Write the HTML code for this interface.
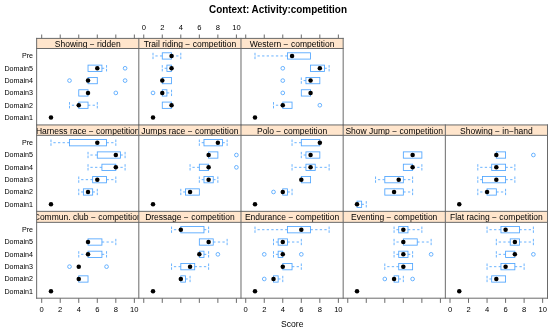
<!DOCTYPE html><html><head><meta charset="utf-8"><title>Context: Activity:competition</title>
<style>html,body{margin:0;padding:0;background:#fff}svg{display:block}text{font-family:"Liberation Sans",Arial,Helvetica,sans-serif;fill:#000}</style></head><body>
<svg width="550" height="331" viewBox="0 0 550 331">
<rect x="0" y="0" width="550" height="331" fill="#fff"/>
<text x="278" y="12.75" text-anchor="middle" font-size="10.1" font-weight="bold" textLength="138" lengthAdjust="spacingAndGlyphs">Context: Activity:competition</text>
<text x="292.2" y="326.5" text-anchor="middle" font-size="8.6">Score</text>
<g>
<clipPath id="c00"><rect x="36.65" y="38.40" width="102.17" height="10.1"/></clipPath>
<rect x="36.65" y="38.40" width="102.17" height="10.1" fill="#ffe5cc"/>
<text x="87.73" y="46.90" text-anchor="middle" font-size="8.5" clip-path="url(#c00)">Showing − ridden</text>
<rect x="88.03" y="65.12" width="13.90" height="6.3" fill="none" stroke="#4fa5ff" stroke-width="0.85"/>
<path d="M101.92 68.27H106.56" fill="none" stroke="#4fa5ff" stroke-width="0.85" stroke-dasharray="2.3 2.3"/><path d="M106.56 65.12v6.3" fill="none" stroke="#4fa5ff" stroke-width="0.85" stroke-dasharray="2.55 1.2"/>
<circle cx="125.09" cy="68.27" r="1.85" fill="none" stroke="#4fa5ff" stroke-width="0.85"/>
<circle cx="97.29" cy="68.27" r="2.25" fill="#000"/>
<rect x="88.03" y="77.44" width="9.27" height="6.3" fill="none" stroke="#4fa5ff" stroke-width="0.85"/>
<circle cx="69.50" cy="80.59" r="1.85" fill="none" stroke="#4fa5ff" stroke-width="0.85"/>
<circle cx="125.09" cy="80.59" r="1.85" fill="none" stroke="#4fa5ff" stroke-width="0.85"/>
<circle cx="88.03" cy="80.59" r="2.25" fill="#000"/>
<rect x="78.76" y="89.76" width="9.27" height="6.3" fill="none" stroke="#4fa5ff" stroke-width="0.85"/>
<circle cx="115.82" cy="92.91" r="1.85" fill="none" stroke="#4fa5ff" stroke-width="0.85"/>
<circle cx="88.03" cy="92.91" r="2.25" fill="#000"/>
<rect x="78.76" y="102.08" width="9.27" height="6.3" fill="none" stroke="#4fa5ff" stroke-width="0.85"/>
<path d="M78.76 105.23H69.50" fill="none" stroke="#4fa5ff" stroke-width="0.85" stroke-dasharray="2.3 2.3"/><path d="M69.50 102.08v6.3" fill="none" stroke="#4fa5ff" stroke-width="0.85" stroke-dasharray="2.55 1.2"/>
<path d="M88.03 105.23H97.29" fill="none" stroke="#4fa5ff" stroke-width="0.85" stroke-dasharray="2.3 2.3"/><path d="M97.29 102.08v6.3" fill="none" stroke="#4fa5ff" stroke-width="0.85" stroke-dasharray="2.55 1.2"/>
<circle cx="78.76" cy="105.23" r="2.25" fill="#000"/>
<circle cx="50.97" cy="117.55" r="2.25" fill="#000"/>
</g>
<g>
<clipPath id="c01"><rect x="138.82" y="38.40" width="102.17" height="10.1"/></clipPath>
<rect x="138.82" y="38.40" width="102.17" height="10.1" fill="#ffe5cc"/>
<text x="189.91" y="46.90" text-anchor="middle" font-size="8.5" clip-path="url(#c01)">Trail riding − competition</text>
<rect x="162.28" y="52.80" width="9.27" height="6.3" fill="none" stroke="#4fa5ff" stroke-width="0.85"/>
<path d="M162.28 55.95H153.01" fill="none" stroke="#4fa5ff" stroke-width="0.85" stroke-dasharray="2.3 2.3"/><path d="M153.01 52.80v6.3" fill="none" stroke="#4fa5ff" stroke-width="0.85" stroke-dasharray="2.55 1.2"/>
<path d="M171.55 55.95H180.81" fill="none" stroke="#4fa5ff" stroke-width="0.85" stroke-dasharray="2.3 2.3"/><path d="M180.81 52.80v6.3" fill="none" stroke="#4fa5ff" stroke-width="0.85" stroke-dasharray="2.55 1.2"/>
<circle cx="171.55" cy="55.95" r="2.25" fill="#000"/>
<rect x="166.91" y="65.12" width="4.63" height="6.3" fill="none" stroke="#4fa5ff" stroke-width="0.85"/>
<path d="M166.91 68.27H162.28" fill="none" stroke="#4fa5ff" stroke-width="0.85" stroke-dasharray="2.3 2.3"/><path d="M162.28 65.12v6.3" fill="none" stroke="#4fa5ff" stroke-width="0.85" stroke-dasharray="2.55 1.2"/>
<circle cx="171.55" cy="68.27" r="2.25" fill="#000"/>
<rect x="162.28" y="77.44" width="9.27" height="6.3" fill="none" stroke="#4fa5ff" stroke-width="0.85"/>
<circle cx="162.28" cy="80.59" r="2.25" fill="#000"/>
<rect x="162.28" y="89.76" width="4.63" height="6.3" fill="none" stroke="#4fa5ff" stroke-width="0.85"/>
<path d="M166.91 92.91H171.55" fill="none" stroke="#4fa5ff" stroke-width="0.85" stroke-dasharray="2.3 2.3"/><path d="M171.55 89.76v6.3" fill="none" stroke="#4fa5ff" stroke-width="0.85" stroke-dasharray="2.55 1.2"/>
<circle cx="153.01" cy="92.91" r="1.85" fill="none" stroke="#4fa5ff" stroke-width="0.85"/>
<circle cx="162.28" cy="92.91" r="2.25" fill="#000"/>
<rect x="162.28" y="102.08" width="9.27" height="6.3" fill="none" stroke="#4fa5ff" stroke-width="0.85"/>
<circle cx="171.55" cy="105.23" r="2.25" fill="#000"/>
<circle cx="153.01" cy="117.55" r="2.25" fill="#000"/>
</g>
<g>
<clipPath id="c02"><rect x="240.99" y="38.40" width="102.17" height="10.1"/></clipPath>
<rect x="240.99" y="38.40" width="102.17" height="10.1" fill="#ffe5cc"/>
<text x="292.07" y="46.90" text-anchor="middle" font-size="8.5" clip-path="url(#c02)">Western − competition</text>
<rect x="287.41" y="52.80" width="23.16" height="6.3" fill="none" stroke="#4fa5ff" stroke-width="0.85"/>
<path d="M287.41 55.95H254.99" fill="none" stroke="#4fa5ff" stroke-width="0.85" stroke-dasharray="2.3 2.3"/><path d="M254.99 52.80v6.3" fill="none" stroke="#4fa5ff" stroke-width="0.85" stroke-dasharray="2.55 1.2"/>
<circle cx="292.05" cy="55.95" r="2.25" fill="#000"/>
<rect x="310.57" y="65.12" width="13.90" height="6.3" fill="none" stroke="#4fa5ff" stroke-width="0.85"/>
<path d="M324.47 68.27H329.11" fill="none" stroke="#4fa5ff" stroke-width="0.85" stroke-dasharray="2.3 2.3"/><path d="M329.11 65.12v6.3" fill="none" stroke="#4fa5ff" stroke-width="0.85" stroke-dasharray="2.55 1.2"/>
<circle cx="282.78" cy="68.27" r="1.85" fill="none" stroke="#4fa5ff" stroke-width="0.85"/>
<circle cx="319.84" cy="68.27" r="2.25" fill="#000"/>
<rect x="305.94" y="77.44" width="13.90" height="6.3" fill="none" stroke="#4fa5ff" stroke-width="0.85"/>
<path d="M305.94 80.59H301.31" fill="none" stroke="#4fa5ff" stroke-width="0.85" stroke-dasharray="2.3 2.3"/><path d="M301.31 77.44v6.3" fill="none" stroke="#4fa5ff" stroke-width="0.85" stroke-dasharray="2.55 1.2"/>
<circle cx="282.78" cy="80.59" r="1.85" fill="none" stroke="#4fa5ff" stroke-width="0.85"/>
<circle cx="310.57" cy="80.59" r="2.25" fill="#000"/>
<rect x="301.31" y="89.76" width="9.27" height="6.3" fill="none" stroke="#4fa5ff" stroke-width="0.85"/>
<circle cx="282.78" cy="92.91" r="1.85" fill="none" stroke="#4fa5ff" stroke-width="0.85"/>
<circle cx="310.57" cy="92.91" r="2.25" fill="#000"/>
<rect x="282.78" y="102.08" width="9.27" height="6.3" fill="none" stroke="#4fa5ff" stroke-width="0.85"/>
<path d="M282.78 105.23H273.51" fill="none" stroke="#4fa5ff" stroke-width="0.85" stroke-dasharray="2.3 2.3"/><path d="M273.51 102.08v6.3" fill="none" stroke="#4fa5ff" stroke-width="0.85" stroke-dasharray="2.55 1.2"/>
<circle cx="319.84" cy="105.23" r="1.85" fill="none" stroke="#4fa5ff" stroke-width="0.85"/>
<circle cx="282.78" cy="105.23" r="2.25" fill="#000"/>
<circle cx="254.99" cy="117.55" r="2.25" fill="#000"/>
</g>
<g>
<clipPath id="c10"><rect x="36.65" y="124.95" width="102.17" height="10.4"/></clipPath>
<rect x="36.65" y="124.95" width="102.17" height="10.4" fill="#ffe5cc"/>
<text x="87.73" y="133.60" text-anchor="middle" font-size="8.5" clip-path="url(#c10)">Harness race − competition</text>
<rect x="69.50" y="139.55" width="37.06" height="6.3" fill="none" stroke="#4fa5ff" stroke-width="0.85"/>
<path d="M69.50 142.70H50.97" fill="none" stroke="#4fa5ff" stroke-width="0.85" stroke-dasharray="2.3 2.3"/><path d="M50.97 139.55v6.3" fill="none" stroke="#4fa5ff" stroke-width="0.85" stroke-dasharray="2.55 1.2"/>
<path d="M106.56 142.70H115.82" fill="none" stroke="#4fa5ff" stroke-width="0.85" stroke-dasharray="2.3 2.3"/><path d="M115.82 139.55v6.3" fill="none" stroke="#4fa5ff" stroke-width="0.85" stroke-dasharray="2.55 1.2"/>
<circle cx="97.29" cy="142.70" r="2.25" fill="#000"/>
<rect x="97.29" y="151.87" width="23.16" height="6.3" fill="none" stroke="#4fa5ff" stroke-width="0.85"/>
<path d="M97.29 155.02H88.03" fill="none" stroke="#4fa5ff" stroke-width="0.85" stroke-dasharray="2.3 2.3"/><path d="M88.03 151.87v6.3" fill="none" stroke="#4fa5ff" stroke-width="0.85" stroke-dasharray="2.55 1.2"/>
<path d="M120.45 155.02H125.09" fill="none" stroke="#4fa5ff" stroke-width="0.85" stroke-dasharray="2.3 2.3"/><path d="M125.09 151.87v6.3" fill="none" stroke="#4fa5ff" stroke-width="0.85" stroke-dasharray="2.55 1.2"/>
<circle cx="115.82" cy="155.02" r="2.25" fill="#000"/>
<rect x="101.92" y="164.19" width="13.90" height="6.3" fill="none" stroke="#4fa5ff" stroke-width="0.85"/>
<path d="M101.92 167.34H88.03" fill="none" stroke="#4fa5ff" stroke-width="0.85" stroke-dasharray="2.3 2.3"/><path d="M88.03 164.19v6.3" fill="none" stroke="#4fa5ff" stroke-width="0.85" stroke-dasharray="2.55 1.2"/>
<path d="M115.82 167.34H125.09" fill="none" stroke="#4fa5ff" stroke-width="0.85" stroke-dasharray="2.3 2.3"/><path d="M125.09 164.19v6.3" fill="none" stroke="#4fa5ff" stroke-width="0.85" stroke-dasharray="2.55 1.2"/>
<circle cx="115.82" cy="167.34" r="2.25" fill="#000"/>
<rect x="92.66" y="176.51" width="13.90" height="6.3" fill="none" stroke="#4fa5ff" stroke-width="0.85"/>
<path d="M92.66 179.66H78.76" fill="none" stroke="#4fa5ff" stroke-width="0.85" stroke-dasharray="2.3 2.3"/><path d="M78.76 176.51v6.3" fill="none" stroke="#4fa5ff" stroke-width="0.85" stroke-dasharray="2.55 1.2"/>
<path d="M106.56 179.66H115.82" fill="none" stroke="#4fa5ff" stroke-width="0.85" stroke-dasharray="2.3 2.3"/><path d="M115.82 176.51v6.3" fill="none" stroke="#4fa5ff" stroke-width="0.85" stroke-dasharray="2.55 1.2"/>
<circle cx="97.29" cy="179.66" r="2.25" fill="#000"/>
<rect x="83.39" y="188.83" width="9.27" height="6.3" fill="none" stroke="#4fa5ff" stroke-width="0.85"/>
<path d="M83.39 191.98H78.76" fill="none" stroke="#4fa5ff" stroke-width="0.85" stroke-dasharray="2.3 2.3"/><path d="M78.76 188.83v6.3" fill="none" stroke="#4fa5ff" stroke-width="0.85" stroke-dasharray="2.55 1.2"/>
<path d="M92.66 191.98H97.29" fill="none" stroke="#4fa5ff" stroke-width="0.85" stroke-dasharray="2.3 2.3"/><path d="M97.29 188.83v6.3" fill="none" stroke="#4fa5ff" stroke-width="0.85" stroke-dasharray="2.55 1.2"/>
<circle cx="88.03" cy="191.98" r="2.25" fill="#000"/>
<circle cx="50.97" cy="204.30" r="2.25" fill="#000"/>
</g>
<g>
<clipPath id="c11"><rect x="138.82" y="124.95" width="102.17" height="10.4"/></clipPath>
<rect x="138.82" y="124.95" width="102.17" height="10.4" fill="#ffe5cc"/>
<text x="189.91" y="133.60" text-anchor="middle" font-size="8.5" clip-path="url(#c11)">Jumps race − competition</text>
<rect x="203.97" y="139.55" width="18.53" height="6.3" fill="none" stroke="#4fa5ff" stroke-width="0.85"/>
<path d="M203.97 142.70H199.34" fill="none" stroke="#4fa5ff" stroke-width="0.85" stroke-dasharray="2.3 2.3"/><path d="M199.34 139.55v6.3" fill="none" stroke="#4fa5ff" stroke-width="0.85" stroke-dasharray="2.55 1.2"/>
<path d="M222.50 142.70H227.13" fill="none" stroke="#4fa5ff" stroke-width="0.85" stroke-dasharray="2.3 2.3"/><path d="M227.13 139.55v6.3" fill="none" stroke="#4fa5ff" stroke-width="0.85" stroke-dasharray="2.55 1.2"/>
<circle cx="217.87" cy="142.70" r="2.25" fill="#000"/>
<rect x="208.61" y="151.87" width="9.27" height="6.3" fill="none" stroke="#4fa5ff" stroke-width="0.85"/>
<circle cx="236.40" cy="155.02" r="1.85" fill="none" stroke="#4fa5ff" stroke-width="0.85"/>
<circle cx="208.61" cy="155.02" r="2.25" fill="#000"/>
<rect x="199.34" y="164.19" width="9.27" height="6.3" fill="none" stroke="#4fa5ff" stroke-width="0.85"/>
<path d="M199.34 167.34H190.07" fill="none" stroke="#4fa5ff" stroke-width="0.85" stroke-dasharray="2.3 2.3"/><path d="M190.07 164.19v6.3" fill="none" stroke="#4fa5ff" stroke-width="0.85" stroke-dasharray="2.55 1.2"/>
<circle cx="236.40" cy="167.34" r="1.85" fill="none" stroke="#4fa5ff" stroke-width="0.85"/>
<circle cx="208.61" cy="167.34" r="2.25" fill="#000"/>
<rect x="203.97" y="176.51" width="9.27" height="6.3" fill="none" stroke="#4fa5ff" stroke-width="0.85"/>
<path d="M203.97 179.66H199.34" fill="none" stroke="#4fa5ff" stroke-width="0.85" stroke-dasharray="2.3 2.3"/><path d="M199.34 176.51v6.3" fill="none" stroke="#4fa5ff" stroke-width="0.85" stroke-dasharray="2.55 1.2"/>
<path d="M213.24 179.66H217.87" fill="none" stroke="#4fa5ff" stroke-width="0.85" stroke-dasharray="2.3 2.3"/><path d="M217.87 176.51v6.3" fill="none" stroke="#4fa5ff" stroke-width="0.85" stroke-dasharray="2.55 1.2"/>
<circle cx="208.61" cy="179.66" r="2.25" fill="#000"/>
<rect x="185.44" y="188.83" width="13.90" height="6.3" fill="none" stroke="#4fa5ff" stroke-width="0.85"/>
<path d="M185.44 191.98H180.81" fill="none" stroke="#4fa5ff" stroke-width="0.85" stroke-dasharray="2.3 2.3"/><path d="M180.81 188.83v6.3" fill="none" stroke="#4fa5ff" stroke-width="0.85" stroke-dasharray="2.55 1.2"/>
<circle cx="190.07" cy="191.98" r="2.25" fill="#000"/>
<circle cx="153.01" cy="204.30" r="2.25" fill="#000"/>
</g>
<g>
<clipPath id="c12"><rect x="240.99" y="124.95" width="102.17" height="10.4"/></clipPath>
<rect x="240.99" y="124.95" width="102.17" height="10.4" fill="#ffe5cc"/>
<text x="292.07" y="133.60" text-anchor="middle" font-size="8.5" clip-path="url(#c12)">Polo − competition</text>
<rect x="301.31" y="139.55" width="18.53" height="6.3" fill="none" stroke="#4fa5ff" stroke-width="0.85"/>
<path d="M301.31 142.70H292.05" fill="none" stroke="#4fa5ff" stroke-width="0.85" stroke-dasharray="2.3 2.3"/><path d="M292.05 139.55v6.3" fill="none" stroke="#4fa5ff" stroke-width="0.85" stroke-dasharray="2.55 1.2"/>
<circle cx="319.84" cy="142.70" r="2.25" fill="#000"/>
<rect x="305.94" y="151.87" width="13.90" height="6.3" fill="none" stroke="#4fa5ff" stroke-width="0.85"/>
<path d="M305.94 155.02H301.31" fill="none" stroke="#4fa5ff" stroke-width="0.85" stroke-dasharray="2.3 2.3"/><path d="M301.31 151.87v6.3" fill="none" stroke="#4fa5ff" stroke-width="0.85" stroke-dasharray="2.55 1.2"/>
<circle cx="310.57" cy="155.02" r="2.25" fill="#000"/>
<rect x="305.94" y="164.19" width="9.27" height="6.3" fill="none" stroke="#4fa5ff" stroke-width="0.85"/>
<path d="M305.94 167.34H292.05" fill="none" stroke="#4fa5ff" stroke-width="0.85" stroke-dasharray="2.3 2.3"/><path d="M292.05 164.19v6.3" fill="none" stroke="#4fa5ff" stroke-width="0.85" stroke-dasharray="2.55 1.2"/>
<path d="M315.21 167.34H329.11" fill="none" stroke="#4fa5ff" stroke-width="0.85" stroke-dasharray="2.3 2.3"/><path d="M329.11 164.19v6.3" fill="none" stroke="#4fa5ff" stroke-width="0.85" stroke-dasharray="2.55 1.2"/>
<circle cx="310.57" cy="167.34" r="2.25" fill="#000"/>
<rect x="301.31" y="176.51" width="9.27" height="6.3" fill="none" stroke="#4fa5ff" stroke-width="0.85"/>
<circle cx="301.31" cy="179.66" r="2.25" fill="#000"/>
<rect x="282.78" y="188.83" width="4.63" height="6.3" fill="none" stroke="#4fa5ff" stroke-width="0.85"/>
<path d="M287.41 191.98H292.05" fill="none" stroke="#4fa5ff" stroke-width="0.85" stroke-dasharray="2.3 2.3"/><path d="M292.05 188.83v6.3" fill="none" stroke="#4fa5ff" stroke-width="0.85" stroke-dasharray="2.55 1.2"/>
<circle cx="273.51" cy="191.98" r="1.85" fill="none" stroke="#4fa5ff" stroke-width="0.85"/>
<circle cx="282.78" cy="191.98" r="2.25" fill="#000"/>
<circle cx="254.99" cy="204.30" r="2.25" fill="#000"/>
</g>
<g>
<clipPath id="c13"><rect x="343.16" y="124.95" width="102.17" height="10.4"/></clipPath>
<rect x="343.16" y="124.95" width="102.17" height="10.4" fill="#ffe5cc"/>
<text x="394.24" y="133.60" text-anchor="middle" font-size="8.5" clip-path="url(#c13)">Show Jump − competition</text>
<rect x="403.34" y="151.87" width="18.53" height="6.3" fill="none" stroke="#4fa5ff" stroke-width="0.85"/>
<circle cx="412.61" cy="155.02" r="2.25" fill="#000"/>
<rect x="403.34" y="164.19" width="9.27" height="6.3" fill="none" stroke="#4fa5ff" stroke-width="0.85"/>
<path d="M412.61 167.34H421.87" fill="none" stroke="#4fa5ff" stroke-width="0.85" stroke-dasharray="2.3 2.3"/><path d="M421.87 164.19v6.3" fill="none" stroke="#4fa5ff" stroke-width="0.85" stroke-dasharray="2.55 1.2"/>
<circle cx="412.61" cy="167.34" r="2.25" fill="#000"/>
<rect x="384.81" y="176.51" width="18.53" height="6.3" fill="none" stroke="#4fa5ff" stroke-width="0.85"/>
<path d="M384.81 179.66H375.55" fill="none" stroke="#4fa5ff" stroke-width="0.85" stroke-dasharray="2.3 2.3"/><path d="M375.55 176.51v6.3" fill="none" stroke="#4fa5ff" stroke-width="0.85" stroke-dasharray="2.55 1.2"/>
<path d="M403.34 179.66H412.61" fill="none" stroke="#4fa5ff" stroke-width="0.85" stroke-dasharray="2.3 2.3"/><path d="M412.61 176.51v6.3" fill="none" stroke="#4fa5ff" stroke-width="0.85" stroke-dasharray="2.55 1.2"/>
<circle cx="398.71" cy="179.66" r="2.25" fill="#000"/>
<rect x="384.81" y="188.83" width="18.53" height="6.3" fill="none" stroke="#4fa5ff" stroke-width="0.85"/>
<path d="M403.34 191.98H412.61" fill="none" stroke="#4fa5ff" stroke-width="0.85" stroke-dasharray="2.3 2.3"/><path d="M412.61 188.83v6.3" fill="none" stroke="#4fa5ff" stroke-width="0.85" stroke-dasharray="2.55 1.2"/>
<circle cx="394.07" cy="191.98" r="2.25" fill="#000"/>
<rect x="357.01" y="201.15" width="4.63" height="6.3" fill="none" stroke="#4fa5ff" stroke-width="0.85"/>
<path d="M361.65 204.30H366.28" fill="none" stroke="#4fa5ff" stroke-width="0.85" stroke-dasharray="2.3 2.3"/><path d="M366.28 201.15v6.3" fill="none" stroke="#4fa5ff" stroke-width="0.85" stroke-dasharray="2.55 1.2"/>
<circle cx="357.01" cy="204.30" r="2.25" fill="#000"/>
</g>
<g>
<clipPath id="c14"><rect x="445.33" y="124.95" width="102.17" height="10.4"/></clipPath>
<rect x="445.33" y="124.95" width="102.17" height="10.4" fill="#ffe5cc"/>
<text x="496.41" y="133.60" text-anchor="middle" font-size="8.5" clip-path="url(#c14)">Showing − in−hand</text>
<rect x="496.32" y="151.87" width="9.27" height="6.3" fill="none" stroke="#4fa5ff" stroke-width="0.85"/>
<circle cx="533.38" cy="155.02" r="1.85" fill="none" stroke="#4fa5ff" stroke-width="0.85"/>
<circle cx="496.32" cy="155.02" r="2.25" fill="#000"/>
<rect x="491.69" y="164.19" width="13.90" height="6.3" fill="none" stroke="#4fa5ff" stroke-width="0.85"/>
<path d="M491.69 167.34H477.80" fill="none" stroke="#4fa5ff" stroke-width="0.85" stroke-dasharray="2.3 2.3"/><path d="M477.80 164.19v6.3" fill="none" stroke="#4fa5ff" stroke-width="0.85" stroke-dasharray="2.55 1.2"/>
<path d="M505.59 167.34H514.86" fill="none" stroke="#4fa5ff" stroke-width="0.85" stroke-dasharray="2.3 2.3"/><path d="M514.86 164.19v6.3" fill="none" stroke="#4fa5ff" stroke-width="0.85" stroke-dasharray="2.55 1.2"/>
<circle cx="496.32" cy="167.34" r="2.25" fill="#000"/>
<rect x="482.43" y="176.51" width="23.16" height="6.3" fill="none" stroke="#4fa5ff" stroke-width="0.85"/>
<path d="M482.43 179.66H477.80" fill="none" stroke="#4fa5ff" stroke-width="0.85" stroke-dasharray="2.3 2.3"/><path d="M477.80 176.51v6.3" fill="none" stroke="#4fa5ff" stroke-width="0.85" stroke-dasharray="2.55 1.2"/>
<path d="M505.59 179.66H514.86" fill="none" stroke="#4fa5ff" stroke-width="0.85" stroke-dasharray="2.3 2.3"/><path d="M514.86 176.51v6.3" fill="none" stroke="#4fa5ff" stroke-width="0.85" stroke-dasharray="2.55 1.2"/>
<circle cx="496.32" cy="179.66" r="2.25" fill="#000"/>
<rect x="487.06" y="188.83" width="9.27" height="6.3" fill="none" stroke="#4fa5ff" stroke-width="0.85"/>
<path d="M487.06 191.98H477.80" fill="none" stroke="#4fa5ff" stroke-width="0.85" stroke-dasharray="2.3 2.3"/><path d="M477.80 188.83v6.3" fill="none" stroke="#4fa5ff" stroke-width="0.85" stroke-dasharray="2.55 1.2"/>
<path d="M496.32 191.98H505.59" fill="none" stroke="#4fa5ff" stroke-width="0.85" stroke-dasharray="2.3 2.3"/><path d="M505.59 188.83v6.3" fill="none" stroke="#4fa5ff" stroke-width="0.85" stroke-dasharray="2.55 1.2"/>
<circle cx="487.06" cy="191.98" r="2.25" fill="#000"/>
<circle cx="459.26" cy="204.30" r="2.25" fill="#000"/>
</g>
<g>
<clipPath id="c20"><rect x="36.65" y="211.35" width="102.17" height="11.0"/></clipPath>
<rect x="36.65" y="211.35" width="102.17" height="11.0" fill="#ffe5cc"/>
<text x="87.73" y="220.30" text-anchor="middle" font-size="8.5" clip-path="url(#c20)">Commun. club − competition</text>
<rect x="88.03" y="238.87" width="13.90" height="6.3" fill="none" stroke="#4fa5ff" stroke-width="0.85"/>
<path d="M101.92 242.02H115.82" fill="none" stroke="#4fa5ff" stroke-width="0.85" stroke-dasharray="2.3 2.3"/><path d="M115.82 238.87v6.3" fill="none" stroke="#4fa5ff" stroke-width="0.85" stroke-dasharray="2.55 1.2"/>
<circle cx="88.03" cy="242.02" r="2.25" fill="#000"/>
<rect x="88.03" y="251.19" width="13.90" height="6.3" fill="none" stroke="#4fa5ff" stroke-width="0.85"/>
<path d="M88.03 254.34H78.76" fill="none" stroke="#4fa5ff" stroke-width="0.85" stroke-dasharray="2.3 2.3"/><path d="M78.76 251.19v6.3" fill="none" stroke="#4fa5ff" stroke-width="0.85" stroke-dasharray="2.55 1.2"/>
<path d="M101.92 254.34H106.56" fill="none" stroke="#4fa5ff" stroke-width="0.85" stroke-dasharray="2.3 2.3"/><path d="M106.56 251.19v6.3" fill="none" stroke="#4fa5ff" stroke-width="0.85" stroke-dasharray="2.55 1.2"/>
<circle cx="88.03" cy="254.34" r="2.25" fill="#000"/>
<circle cx="69.50" cy="266.66" r="1.85" fill="none" stroke="#4fa5ff" stroke-width="0.85"/>
<circle cx="106.56" cy="266.66" r="1.85" fill="none" stroke="#4fa5ff" stroke-width="0.85"/>
<circle cx="78.76" cy="266.66" r="2.25" fill="#000"/>
<rect x="78.76" y="275.83" width="9.27" height="6.3" fill="none" stroke="#4fa5ff" stroke-width="0.85"/>
<circle cx="78.76" cy="278.98" r="2.25" fill="#000"/>
<circle cx="50.97" cy="291.30" r="2.25" fill="#000"/>
</g>
<g>
<clipPath id="c21"><rect x="138.82" y="211.35" width="102.17" height="11.0"/></clipPath>
<rect x="138.82" y="211.35" width="102.17" height="11.0" fill="#ffe5cc"/>
<text x="189.91" y="220.30" text-anchor="middle" font-size="8.5" clip-path="url(#c21)">Dressage − competition</text>
<rect x="180.81" y="226.55" width="23.16" height="6.3" fill="none" stroke="#4fa5ff" stroke-width="0.85"/>
<path d="M180.81 229.70H171.55" fill="none" stroke="#4fa5ff" stroke-width="0.85" stroke-dasharray="2.3 2.3"/><path d="M171.55 226.55v6.3" fill="none" stroke="#4fa5ff" stroke-width="0.85" stroke-dasharray="2.55 1.2"/>
<path d="M203.97 229.70H208.61" fill="none" stroke="#4fa5ff" stroke-width="0.85" stroke-dasharray="2.3 2.3"/><path d="M208.61 226.55v6.3" fill="none" stroke="#4fa5ff" stroke-width="0.85" stroke-dasharray="2.55 1.2"/>
<circle cx="180.81" cy="229.70" r="2.25" fill="#000"/>
<rect x="199.34" y="238.87" width="13.90" height="6.3" fill="none" stroke="#4fa5ff" stroke-width="0.85"/>
<path d="M213.24 242.02H227.13" fill="none" stroke="#4fa5ff" stroke-width="0.85" stroke-dasharray="2.3 2.3"/><path d="M227.13 238.87v6.3" fill="none" stroke="#4fa5ff" stroke-width="0.85" stroke-dasharray="2.55 1.2"/>
<circle cx="208.61" cy="242.02" r="2.25" fill="#000"/>
<rect x="199.34" y="251.19" width="4.63" height="6.3" fill="none" stroke="#4fa5ff" stroke-width="0.85"/>
<path d="M203.97 254.34H208.61" fill="none" stroke="#4fa5ff" stroke-width="0.85" stroke-dasharray="2.3 2.3"/><path d="M208.61 251.19v6.3" fill="none" stroke="#4fa5ff" stroke-width="0.85" stroke-dasharray="2.55 1.2"/>
<circle cx="217.87" cy="254.34" r="1.85" fill="none" stroke="#4fa5ff" stroke-width="0.85"/>
<circle cx="199.34" cy="254.34" r="2.25" fill="#000"/>
<rect x="180.81" y="263.51" width="13.90" height="6.3" fill="none" stroke="#4fa5ff" stroke-width="0.85"/>
<path d="M180.81 266.66H171.55" fill="none" stroke="#4fa5ff" stroke-width="0.85" stroke-dasharray="2.3 2.3"/><path d="M171.55 263.51v6.3" fill="none" stroke="#4fa5ff" stroke-width="0.85" stroke-dasharray="2.55 1.2"/>
<path d="M194.71 266.66H208.61" fill="none" stroke="#4fa5ff" stroke-width="0.85" stroke-dasharray="2.3 2.3"/><path d="M208.61 263.51v6.3" fill="none" stroke="#4fa5ff" stroke-width="0.85" stroke-dasharray="2.55 1.2"/>
<circle cx="190.07" cy="266.66" r="2.25" fill="#000"/>
<rect x="180.81" y="275.83" width="4.63" height="6.3" fill="none" stroke="#4fa5ff" stroke-width="0.85"/>
<path d="M185.44 278.98H190.07" fill="none" stroke="#4fa5ff" stroke-width="0.85" stroke-dasharray="2.3 2.3"/><path d="M190.07 275.83v6.3" fill="none" stroke="#4fa5ff" stroke-width="0.85" stroke-dasharray="2.55 1.2"/>
<circle cx="180.81" cy="278.98" r="2.25" fill="#000"/>
<circle cx="153.01" cy="291.30" r="2.25" fill="#000"/>
</g>
<g>
<clipPath id="c22"><rect x="240.99" y="211.35" width="102.17" height="11.0"/></clipPath>
<rect x="240.99" y="211.35" width="102.17" height="11.0" fill="#ffe5cc"/>
<text x="292.07" y="220.30" text-anchor="middle" font-size="8.5" clip-path="url(#c22)">Endurance − competition</text>
<rect x="287.41" y="226.55" width="23.16" height="6.3" fill="none" stroke="#4fa5ff" stroke-width="0.85"/>
<path d="M287.41 229.70H254.99" fill="none" stroke="#4fa5ff" stroke-width="0.85" stroke-dasharray="2.3 2.3"/><path d="M254.99 226.55v6.3" fill="none" stroke="#4fa5ff" stroke-width="0.85" stroke-dasharray="2.55 1.2"/>
<path d="M310.57 229.70H329.11" fill="none" stroke="#4fa5ff" stroke-width="0.85" stroke-dasharray="2.3 2.3"/><path d="M329.11 226.55v6.3" fill="none" stroke="#4fa5ff" stroke-width="0.85" stroke-dasharray="2.55 1.2"/>
<circle cx="301.31" cy="229.70" r="2.25" fill="#000"/>
<rect x="278.15" y="238.87" width="9.27" height="6.3" fill="none" stroke="#4fa5ff" stroke-width="0.85"/>
<path d="M278.15 242.02H273.51" fill="none" stroke="#4fa5ff" stroke-width="0.85" stroke-dasharray="2.3 2.3"/><path d="M273.51 238.87v6.3" fill="none" stroke="#4fa5ff" stroke-width="0.85" stroke-dasharray="2.55 1.2"/>
<path d="M287.41 242.02H301.31" fill="none" stroke="#4fa5ff" stroke-width="0.85" stroke-dasharray="2.3 2.3"/><path d="M301.31 238.87v6.3" fill="none" stroke="#4fa5ff" stroke-width="0.85" stroke-dasharray="2.55 1.2"/>
<circle cx="282.78" cy="242.02" r="2.25" fill="#000"/>
<rect x="278.15" y="251.19" width="4.63" height="6.3" fill="none" stroke="#4fa5ff" stroke-width="0.85"/>
<path d="M278.15 254.34H273.51" fill="none" stroke="#4fa5ff" stroke-width="0.85" stroke-dasharray="2.3 2.3"/><path d="M273.51 251.19v6.3" fill="none" stroke="#4fa5ff" stroke-width="0.85" stroke-dasharray="2.55 1.2"/>
<circle cx="264.25" cy="254.34" r="1.85" fill="none" stroke="#4fa5ff" stroke-width="0.85"/>
<circle cx="301.31" cy="254.34" r="1.85" fill="none" stroke="#4fa5ff" stroke-width="0.85"/>
<circle cx="282.78" cy="254.34" r="2.25" fill="#000"/>
<rect x="282.78" y="263.51" width="9.27" height="6.3" fill="none" stroke="#4fa5ff" stroke-width="0.85"/>
<path d="M292.05 266.66H301.31" fill="none" stroke="#4fa5ff" stroke-width="0.85" stroke-dasharray="2.3 2.3"/><path d="M301.31 263.51v6.3" fill="none" stroke="#4fa5ff" stroke-width="0.85" stroke-dasharray="2.55 1.2"/>
<circle cx="282.78" cy="266.66" r="2.25" fill="#000"/>
<rect x="273.51" y="275.83" width="4.63" height="6.3" fill="none" stroke="#4fa5ff" stroke-width="0.85"/>
<path d="M278.15 278.98H282.78" fill="none" stroke="#4fa5ff" stroke-width="0.85" stroke-dasharray="2.3 2.3"/><path d="M282.78 275.83v6.3" fill="none" stroke="#4fa5ff" stroke-width="0.85" stroke-dasharray="2.55 1.2"/>
<circle cx="264.25" cy="278.98" r="1.85" fill="none" stroke="#4fa5ff" stroke-width="0.85"/>
<circle cx="273.51" cy="278.98" r="2.25" fill="#000"/>
<circle cx="254.99" cy="291.30" r="2.25" fill="#000"/>
</g>
<g>
<clipPath id="c23"><rect x="343.16" y="211.35" width="102.17" height="11.0"/></clipPath>
<rect x="343.16" y="211.35" width="102.17" height="11.0" fill="#ffe5cc"/>
<text x="394.24" y="220.30" text-anchor="middle" font-size="8.5" clip-path="url(#c23)">Eventing − competition</text>
<rect x="398.71" y="226.55" width="9.27" height="6.3" fill="none" stroke="#4fa5ff" stroke-width="0.85"/>
<path d="M398.71 229.70H394.07" fill="none" stroke="#4fa5ff" stroke-width="0.85" stroke-dasharray="2.3 2.3"/><path d="M394.07 226.55v6.3" fill="none" stroke="#4fa5ff" stroke-width="0.85" stroke-dasharray="2.55 1.2"/>
<path d="M407.97 229.70H421.87" fill="none" stroke="#4fa5ff" stroke-width="0.85" stroke-dasharray="2.3 2.3"/><path d="M421.87 226.55v6.3" fill="none" stroke="#4fa5ff" stroke-width="0.85" stroke-dasharray="2.55 1.2"/>
<circle cx="403.34" cy="229.70" r="2.25" fill="#000"/>
<rect x="403.34" y="238.87" width="13.90" height="6.3" fill="none" stroke="#4fa5ff" stroke-width="0.85"/>
<path d="M403.34 242.02H394.07" fill="none" stroke="#4fa5ff" stroke-width="0.85" stroke-dasharray="2.3 2.3"/><path d="M394.07 238.87v6.3" fill="none" stroke="#4fa5ff" stroke-width="0.85" stroke-dasharray="2.55 1.2"/>
<path d="M417.24 242.02H431.13" fill="none" stroke="#4fa5ff" stroke-width="0.85" stroke-dasharray="2.3 2.3"/><path d="M431.13 238.87v6.3" fill="none" stroke="#4fa5ff" stroke-width="0.85" stroke-dasharray="2.55 1.2"/>
<circle cx="403.34" cy="242.02" r="2.25" fill="#000"/>
<rect x="398.71" y="251.19" width="9.27" height="6.3" fill="none" stroke="#4fa5ff" stroke-width="0.85"/>
<path d="M398.71 254.34H394.07" fill="none" stroke="#4fa5ff" stroke-width="0.85" stroke-dasharray="2.3 2.3"/><path d="M394.07 251.19v6.3" fill="none" stroke="#4fa5ff" stroke-width="0.85" stroke-dasharray="2.55 1.2"/>
<path d="M407.97 254.34H412.61" fill="none" stroke="#4fa5ff" stroke-width="0.85" stroke-dasharray="2.3 2.3"/><path d="M412.61 251.19v6.3" fill="none" stroke="#4fa5ff" stroke-width="0.85" stroke-dasharray="2.55 1.2"/>
<circle cx="431.13" cy="254.34" r="1.85" fill="none" stroke="#4fa5ff" stroke-width="0.85"/>
<circle cx="403.34" cy="254.34" r="2.25" fill="#000"/>
<rect x="398.71" y="263.51" width="13.90" height="6.3" fill="none" stroke="#4fa5ff" stroke-width="0.85"/>
<path d="M398.71 266.66H384.81" fill="none" stroke="#4fa5ff" stroke-width="0.85" stroke-dasharray="2.3 2.3"/><path d="M384.81 263.51v6.3" fill="none" stroke="#4fa5ff" stroke-width="0.85" stroke-dasharray="2.55 1.2"/>
<circle cx="403.34" cy="266.66" r="2.25" fill="#000"/>
<rect x="394.07" y="275.83" width="4.63" height="6.3" fill="none" stroke="#4fa5ff" stroke-width="0.85"/>
<path d="M398.71 278.98H403.34" fill="none" stroke="#4fa5ff" stroke-width="0.85" stroke-dasharray="2.3 2.3"/><path d="M403.34 275.83v6.3" fill="none" stroke="#4fa5ff" stroke-width="0.85" stroke-dasharray="2.55 1.2"/>
<circle cx="384.81" cy="278.98" r="1.85" fill="none" stroke="#4fa5ff" stroke-width="0.85"/>
<circle cx="412.61" cy="278.98" r="1.85" fill="none" stroke="#4fa5ff" stroke-width="0.85"/>
<circle cx="394.07" cy="278.98" r="2.25" fill="#000"/>
<circle cx="357.01" cy="291.30" r="2.25" fill="#000"/>
</g>
<g>
<clipPath id="c24"><rect x="445.33" y="211.35" width="102.17" height="11.0"/></clipPath>
<rect x="445.33" y="211.35" width="102.17" height="11.0" fill="#ffe5cc"/>
<text x="496.41" y="220.30" text-anchor="middle" font-size="8.5" clip-path="url(#c24)">Flat racing − competition</text>
<rect x="500.96" y="226.55" width="18.53" height="6.3" fill="none" stroke="#4fa5ff" stroke-width="0.85"/>
<path d="M500.96 229.70H487.06" fill="none" stroke="#4fa5ff" stroke-width="0.85" stroke-dasharray="2.3 2.3"/><path d="M487.06 226.55v6.3" fill="none" stroke="#4fa5ff" stroke-width="0.85" stroke-dasharray="2.55 1.2"/>
<path d="M519.49 229.70H533.38" fill="none" stroke="#4fa5ff" stroke-width="0.85" stroke-dasharray="2.3 2.3"/><path d="M533.38 226.55v6.3" fill="none" stroke="#4fa5ff" stroke-width="0.85" stroke-dasharray="2.55 1.2"/>
<circle cx="505.59" cy="229.70" r="2.25" fill="#000"/>
<rect x="510.22" y="238.87" width="9.27" height="6.3" fill="none" stroke="#4fa5ff" stroke-width="0.85"/>
<path d="M510.22 242.02H496.32" fill="none" stroke="#4fa5ff" stroke-width="0.85" stroke-dasharray="2.3 2.3"/><path d="M496.32 238.87v6.3" fill="none" stroke="#4fa5ff" stroke-width="0.85" stroke-dasharray="2.55 1.2"/>
<path d="M519.49 242.02H533.38" fill="none" stroke="#4fa5ff" stroke-width="0.85" stroke-dasharray="2.3 2.3"/><path d="M533.38 238.87v6.3" fill="none" stroke="#4fa5ff" stroke-width="0.85" stroke-dasharray="2.55 1.2"/>
<circle cx="514.86" cy="242.02" r="2.25" fill="#000"/>
<rect x="505.59" y="251.19" width="9.27" height="6.3" fill="none" stroke="#4fa5ff" stroke-width="0.85"/>
<path d="M505.59 254.34H496.32" fill="none" stroke="#4fa5ff" stroke-width="0.85" stroke-dasharray="2.3 2.3"/><path d="M496.32 251.19v6.3" fill="none" stroke="#4fa5ff" stroke-width="0.85" stroke-dasharray="2.55 1.2"/>
<circle cx="533.38" cy="254.34" r="1.85" fill="none" stroke="#4fa5ff" stroke-width="0.85"/>
<circle cx="514.86" cy="254.34" r="2.25" fill="#000"/>
<rect x="500.96" y="263.51" width="13.90" height="6.3" fill="none" stroke="#4fa5ff" stroke-width="0.85"/>
<path d="M500.96 266.66H487.06" fill="none" stroke="#4fa5ff" stroke-width="0.85" stroke-dasharray="2.3 2.3"/><path d="M487.06 263.51v6.3" fill="none" stroke="#4fa5ff" stroke-width="0.85" stroke-dasharray="2.55 1.2"/>
<path d="M514.86 266.66H524.12" fill="none" stroke="#4fa5ff" stroke-width="0.85" stroke-dasharray="2.3 2.3"/><path d="M524.12 263.51v6.3" fill="none" stroke="#4fa5ff" stroke-width="0.85" stroke-dasharray="2.55 1.2"/>
<circle cx="505.59" cy="266.66" r="2.25" fill="#000"/>
<rect x="491.69" y="275.83" width="13.90" height="6.3" fill="none" stroke="#4fa5ff" stroke-width="0.85"/>
<path d="M491.69 278.98H487.06" fill="none" stroke="#4fa5ff" stroke-width="0.85" stroke-dasharray="2.3 2.3"/><path d="M487.06 275.83v6.3" fill="none" stroke="#4fa5ff" stroke-width="0.85" stroke-dasharray="2.55 1.2"/>
<circle cx="496.32" cy="278.98" r="2.25" fill="#000"/>
<circle cx="459.26" cy="291.30" r="2.25" fill="#000"/>
</g>
<path d="M36.65 38.40H343.16M36.65 48.50H343.16M36.65 38.40V124.95M138.82 38.40V124.95M240.99 38.40V124.95M343.16 38.40V124.95M36.65 124.95H547.50M36.65 135.35H547.50M36.65 124.95V211.35M138.82 124.95V211.35M240.99 124.95V211.35M343.16 124.95V211.35M445.33 124.95V211.35M547.50 124.95V211.35M36.65 211.35H547.50M36.65 222.35H547.50M36.65 211.35V298.20M138.82 211.35V298.20M240.99 211.35V298.20M343.16 211.35V298.20M445.33 211.35V298.20M547.50 211.35V298.20M36.65 298.20H547.50" fill="none" stroke="#6a6a6a" stroke-width="1.0" stroke-linecap="square"/>
<path d="M41.70 298.2v4.7M60.23 298.2v4.7M78.76 298.2v4.7M97.29 298.2v4.7M115.82 298.2v4.7M134.35 298.2v4.7" stroke="#6a6a6a" stroke-width="1.0" fill="none"/>
<text x="41.70" y="312.3" text-anchor="middle" font-size="7.6">0</text>
<text x="60.23" y="312.3" text-anchor="middle" font-size="7.6">2</text>
<text x="78.76" y="312.3" text-anchor="middle" font-size="7.6">4</text>
<text x="97.29" y="312.3" text-anchor="middle" font-size="7.6">6</text>
<text x="115.82" y="312.3" text-anchor="middle" font-size="7.6">8</text>
<text x="134.35" y="312.3" text-anchor="middle" font-size="7.6">10</text>
<path d="M143.75 298.2v4.7M162.28 298.2v4.7M180.81 298.2v4.7M199.34 298.2v4.7M217.87 298.2v4.7M236.40 298.2v4.7" stroke="#6a6a6a" stroke-width="1.0" fill="none"/>
<path d="M245.72 298.2v4.7M264.25 298.2v4.7M282.78 298.2v4.7M301.31 298.2v4.7M319.84 298.2v4.7M338.37 298.2v4.7" stroke="#6a6a6a" stroke-width="1.0" fill="none"/>
<text x="245.72" y="312.3" text-anchor="middle" font-size="7.6">0</text>
<text x="264.25" y="312.3" text-anchor="middle" font-size="7.6">2</text>
<text x="282.78" y="312.3" text-anchor="middle" font-size="7.6">4</text>
<text x="301.31" y="312.3" text-anchor="middle" font-size="7.6">6</text>
<text x="319.84" y="312.3" text-anchor="middle" font-size="7.6">8</text>
<text x="338.37" y="312.3" text-anchor="middle" font-size="7.6">10</text>
<path d="M347.75 298.2v4.7M366.28 298.2v4.7M384.81 298.2v4.7M403.34 298.2v4.7M421.87 298.2v4.7M440.40 298.2v4.7" stroke="#6a6a6a" stroke-width="1.0" fill="none"/>
<path d="M450.00 298.2v4.7M468.53 298.2v4.7M487.06 298.2v4.7M505.59 298.2v4.7M524.12 298.2v4.7M542.65 298.2v4.7" stroke="#6a6a6a" stroke-width="1.0" fill="none"/>
<text x="450.00" y="312.3" text-anchor="middle" font-size="7.6">0</text>
<text x="468.53" y="312.3" text-anchor="middle" font-size="7.6">2</text>
<text x="487.06" y="312.3" text-anchor="middle" font-size="7.6">4</text>
<text x="505.59" y="312.3" text-anchor="middle" font-size="7.6">6</text>
<text x="524.12" y="312.3" text-anchor="middle" font-size="7.6">8</text>
<text x="542.65" y="312.3" text-anchor="middle" font-size="7.6">10</text>
<path d="M41.70 38.3v-3.8M60.23 38.3v-3.8M78.76 38.3v-3.8M97.29 38.3v-3.8M115.82 38.3v-3.8M134.35 38.3v-3.8" stroke="#6a6a6a" stroke-width="1.0" fill="none"/>
<path d="M143.75 38.3v-3.8M162.28 38.3v-3.8M180.81 38.3v-3.8M199.34 38.3v-3.8M217.87 38.3v-3.8M236.40 38.3v-3.8" stroke="#6a6a6a" stroke-width="1.0" fill="none"/>
<text x="143.75" y="30.3" text-anchor="middle" font-size="7.6">0</text>
<text x="162.28" y="30.3" text-anchor="middle" font-size="7.6">2</text>
<text x="180.81" y="30.3" text-anchor="middle" font-size="7.6">4</text>
<text x="199.34" y="30.3" text-anchor="middle" font-size="7.6">6</text>
<text x="217.87" y="30.3" text-anchor="middle" font-size="7.6">8</text>
<text x="236.40" y="30.3" text-anchor="middle" font-size="7.6">10</text>
<path d="M245.72 38.3v-3.8M264.25 38.3v-3.8M282.78 38.3v-3.8M301.31 38.3v-3.8M319.84 38.3v-3.8M338.37 38.3v-3.8" stroke="#6a6a6a" stroke-width="1.0" fill="none"/>
<text x="33.0" y="119.85" text-anchor="end" font-size="7.15">Domain1</text>
<text x="33.0" y="107.53" text-anchor="end" font-size="7.15">Domain2</text>
<text x="33.0" y="95.21" text-anchor="end" font-size="7.15">Domain3</text>
<text x="33.0" y="82.89" text-anchor="end" font-size="7.15">Domain4</text>
<text x="33.0" y="70.57" text-anchor="end" font-size="7.15">Domain5</text>
<text x="33.0" y="58.25" text-anchor="end" font-size="7.15">Pre</text>
<text x="33.0" y="206.60" text-anchor="end" font-size="7.15">Domain1</text>
<text x="33.0" y="194.28" text-anchor="end" font-size="7.15">Domain2</text>
<text x="33.0" y="181.96" text-anchor="end" font-size="7.15">Domain3</text>
<text x="33.0" y="169.64" text-anchor="end" font-size="7.15">Domain4</text>
<text x="33.0" y="157.32" text-anchor="end" font-size="7.15">Domain5</text>
<text x="33.0" y="145.00" text-anchor="end" font-size="7.15">Pre</text>
<text x="33.0" y="293.60" text-anchor="end" font-size="7.15">Domain1</text>
<text x="33.0" y="281.28" text-anchor="end" font-size="7.15">Domain2</text>
<text x="33.0" y="268.96" text-anchor="end" font-size="7.15">Domain3</text>
<text x="33.0" y="256.64" text-anchor="end" font-size="7.15">Domain4</text>
<text x="33.0" y="244.32" text-anchor="end" font-size="7.15">Domain5</text>
<text x="33.0" y="232.00" text-anchor="end" font-size="7.15">Pre</text>
</svg></body></html>
